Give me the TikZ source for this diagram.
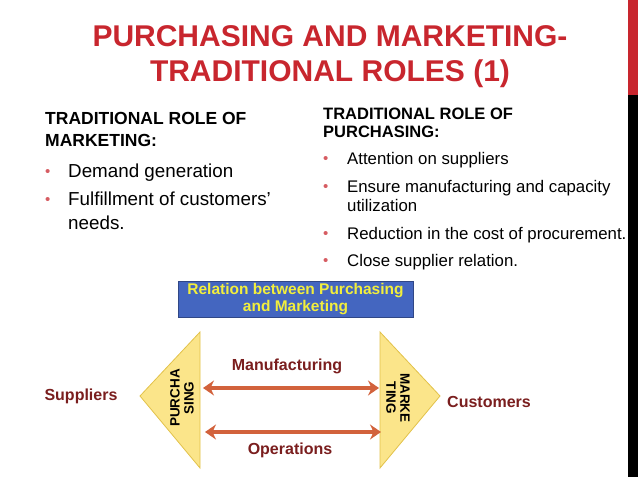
\documentclass[tikz,border=0pt]{standalone}
\usepackage{fontspec}
\setmainfont{Liberation Sans}
\usetikzlibrary{arrows.meta}
\definecolor{ttl}{HTML}{C8262E}
\definecolor{dred}{HTML}{7A1E1E}
\definecolor{arr}{HTML}{D2623C}
\definecolor{tri}{HTML}{FBE58A}
\definecolor{trib}{HTML}{E2C24A}
\definecolor{bbox}{HTML}{4466C0}
\definecolor{ylw}{HTML}{F2EE3C}
\tikzset{
 title/.style={anchor=base,text=ttl,font=\fontsize{30}{34}\selectfont\bfseries,inner sep=0pt},
 lbody/.style={anchor=base west,font=\fontsize{18.8}{22}\selectfont,inner sep=0pt},
 rbody/.style={anchor=base west,font=\fontsize{16.8}{20}\selectfont,inner sep=0pt},
 head/.style={anchor=base west,font=\fontsize{17.5}{20}\selectfont\bfseries,inner sep=0pt},
 rhead/.style={anchor=base west,font=\fontsize{16.5}{20}\selectfont\bfseries,inner sep=0pt},
 dot/.style={anchor=base west,text=ttl!75,font=\fontsize{15}{18}\selectfont,inner sep=0pt},
 lbl/.style={text=dred,font=\fontsize{16}{18}\selectfont\bfseries},
 tribox/.style={fill=tri,draw=trib,line width=0.8pt},
 tlab/.style={font=\fontsize{13.5}{14}\selectfont\bfseries,align=center},
 link/.style={arr,line width=3.4pt,{Stealth[length=11pt,width=15pt]}-{Stealth[length=11pt,width=15pt]}}
}
\begin{document}
\begin{tikzpicture}[x=1pt,y=-1pt]
\useasboundingbox (0,0) rectangle (638,479);
\fill[ttl] (628,0) rectangle (638,95);
\fill[black] (628,95) rectangle (638,477);
\node[title] (t1) at (330,46) {PURCHASING AND MARKETING-};
\node[title] (t2) at (330,81) {TRADITIONAL ROLES (1)};
\node[head] (lh1) at (45,124) {TRADITIONAL ROLE OF};
\node[head] (lh2) at (45,146) {MARKETING:};
\node[dot] (d1) at (45,176) {•}; \node[lbody] (b1) at (68,177) {Demand generation};
\node[dot] (d2) at (45,204) {•}; \node[lbody] (b2) at (68,205) {Fulfillment of customers’};
\node[lbody] (b2b) at (68,229) {needs.};
\node[rhead] (rh1) at (323,119) {TRADITIONAL ROLE OF};
\node[rhead] (rh2) at (323,137) {PURCHASING:};
\node[dot] (d3) at (323,163) {•}; \node[rbody] (b3) at (347,164) {Attention on suppliers};
\node[dot] (d4) at (323,191) {•}; \node[rbody] (b4) at (347,192) {Ensure manufacturing and capacity};
\node[rbody] (b4b) at (347,211) {utilization};
\node[dot] (d5) at (323,238) {•}; \node[rbody] (b5) at (347,239) {Reduction in the cost of procurement.};
\node[dot] (d6) at (323,265) {•}; \node[rbody] (b6) at (347,266) {Close supplier relation.};
\node[fill=bbox,draw=bbox!70!black,minimum width=235pt,minimum height=36pt,text=ylw,font=\fontsize{15.5}{17.5}\selectfont\bfseries,align=center,inner sep=1pt] (rel) at (295.5,299) {Relation between Purchasing\\and Marketing};
\draw[tribox] (200,332) -- (200,468) -- (140,396) -- cycle;
\draw[tribox] (380,332) -- (380,468) -- (440,396) -- cycle;
\node[tlab,rotate=90] (pur) at (182,398) {PURCHA\\SING};
\node[tlab,rotate=-90] (mar) at (398,398) {MARKE\\TING};
\coordinate (m1) at (203,388); \coordinate (m2) at (379,388);
\coordinate (o1) at (205,432); \coordinate (o2) at (381,432);
\draw[link] (m1) -- (m2);
\draw[link] (o1) -- (o2);
\node[lbl] (mf) at (287,366) {Manufacturing};
\node[lbl] (op) at (290,450) {Operations};
\node[lbl] (su) at (81,396) {Suppliers};
\node[lbl] (cu) at (489,402) {Customers};
\end{tikzpicture}
\end{document}
